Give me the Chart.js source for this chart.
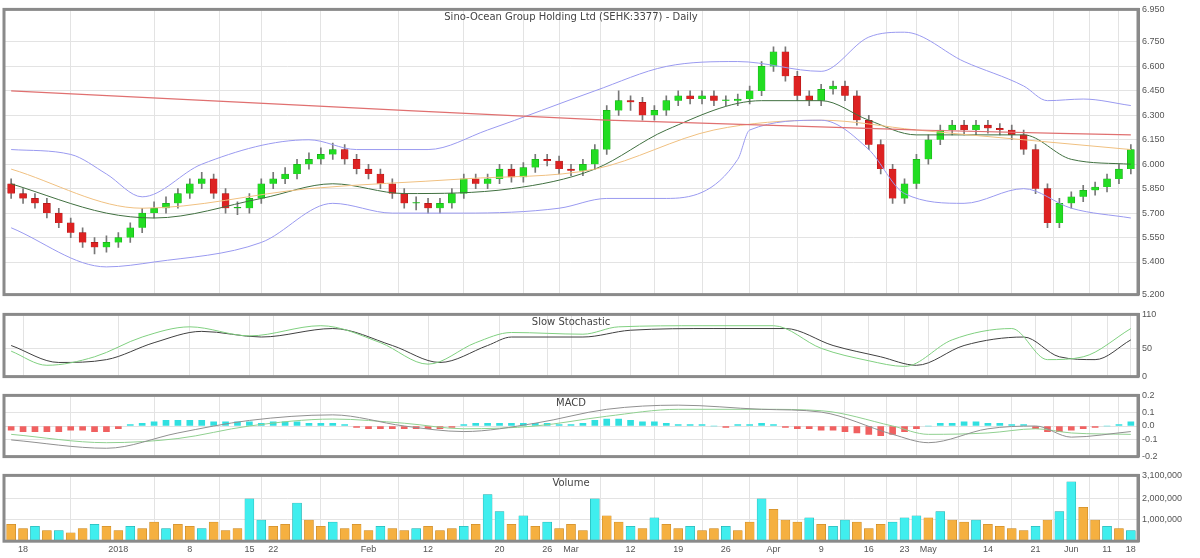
<!DOCTYPE html>
<html><head><meta charset="utf-8">
<script src="https://cdn.jsdelivr.net/npm/chart.js@4/dist/chart.umd.min.js"></script>
<style>
body{margin:0;background:#fff;font-family:"DejaVu Sans",sans-serif;}
.p{position:absolute;left:0;width:1200px;}
</style></head><body>
<div class="p" style="top:0;height:304px"><canvas id="c1"></canvas></div>
<div class="p" style="top:305px;height:81px"><canvas id="c2"></canvas></div>
<div class="p" style="top:386px;height:80px"><canvas id="c3"></canvas></div>
<div class="p" style="top:466px;height:92px"><canvas id="c4"></canvas></div>
<script>
const openP=[5.88,5.82,5.79,5.76,5.70,5.64,5.58,5.52,5.49,5.52,5.55,5.61,5.70,5.73,5.76,5.82,5.88,5.91,5.82,5.73,5.73,5.79,5.88,5.91,5.94,6.00,6.03,6.06,6.09,6.03,5.97,5.94,5.88,5.82,5.76,5.76,5.73,5.76,5.82,5.91,5.88,5.91,5.97,5.92,5.98,6.03,6.02,5.97,5.96,6.00,6.09,6.33,6.39,6.38,6.30,6.33,6.39,6.42,6.40,6.42,6.39,6.39,6.40,6.45,6.60,6.69,6.54,6.42,6.39,6.46,6.48,6.42,6.27,6.12,5.97,5.79,5.88,6.03,6.15,6.21,6.24,6.21,6.24,6.22,6.21,6.18,6.09,5.85,5.64,5.76,5.80,5.84,5.86,5.91,5.97];
const closeP=[5.82,5.79,5.76,5.70,5.64,5.58,5.52,5.49,5.52,5.55,5.61,5.70,5.73,5.76,5.82,5.88,5.91,5.82,5.73,5.73,5.79,5.88,5.91,5.94,6.00,6.03,6.06,6.09,6.03,5.97,5.94,5.88,5.82,5.76,5.76,5.73,5.76,5.82,5.91,5.88,5.91,5.97,5.92,5.98,6.03,6.02,5.97,5.96,6.00,6.09,6.33,6.39,6.38,6.30,6.33,6.39,6.42,6.40,6.42,6.39,6.39,6.40,6.45,6.60,6.69,6.54,6.42,6.39,6.46,6.48,6.42,6.27,6.12,5.97,5.79,5.88,6.03,6.15,6.21,6.24,6.21,6.24,6.22,6.21,6.18,6.09,5.85,5.64,5.76,5.80,5.84,5.86,5.91,5.97,6.09];
const highP=[5.91,5.85,5.82,5.79,5.73,5.67,5.61,5.55,5.56,5.58,5.64,5.73,5.77,5.80,5.85,5.91,5.95,5.94,5.85,5.77,5.82,5.91,5.95,5.98,6.03,6.07,6.10,6.13,6.12,6.06,6.00,5.97,5.91,5.85,5.80,5.79,5.79,5.85,5.94,5.94,5.94,6.00,6.00,6.01,6.06,6.06,6.05,6.00,6.03,6.12,6.36,6.45,6.42,6.41,6.36,6.42,6.45,6.45,6.45,6.45,6.42,6.43,6.48,6.63,6.72,6.72,6.57,6.45,6.49,6.51,6.51,6.45,6.30,6.15,6.00,5.91,6.06,6.18,6.24,6.27,6.27,6.27,6.27,6.25,6.24,6.21,6.12,5.88,5.79,5.83,5.87,5.89,5.94,6.00,6.12];
const lowP=[5.79,5.76,5.73,5.67,5.61,5.55,5.49,5.45,5.46,5.49,5.52,5.58,5.67,5.70,5.73,5.79,5.85,5.79,5.70,5.69,5.70,5.76,5.85,5.88,5.91,5.97,6.00,6.03,6.00,5.94,5.91,5.85,5.79,5.73,5.72,5.70,5.70,5.73,5.79,5.85,5.85,5.88,5.89,5.89,5.95,5.99,5.94,5.93,5.93,5.97,6.06,6.30,6.33,6.27,6.27,6.30,6.36,6.37,6.37,6.36,6.36,6.36,6.37,6.42,6.57,6.51,6.39,6.36,6.36,6.43,6.39,6.24,6.09,5.94,5.76,5.76,5.85,6.00,6.12,6.18,6.18,6.18,6.19,6.18,6.15,6.06,5.82,5.61,5.61,5.73,5.77,5.81,5.83,5.88,5.94];
const volume=[0.8,0.6,0.7,0.5,0.5,0.4,0.6,0.8,0.7,0.5,0.7,0.6,0.9,0.6,0.8,0.7,0.6,0.9,0.5,0.6,2.0,1.0,0.7,0.8,1.8,1.0,0.7,0.9,0.6,0.8,0.5,0.7,0.6,0.5,0.6,0.7,0.5,0.6,0.7,0.8,2.2,1.4,0.8,1.2,0.7,0.9,0.6,0.8,0.5,2.0,1.2,0.9,0.7,0.6,1.1,0.8,0.6,0.7,0.5,0.6,0.7,0.5,0.9,2.0,1.5,1.0,0.9,1.1,0.8,0.7,1.0,0.9,0.6,0.8,0.9,1.1,1.2,1.1,1.4,1.0,0.9,1.0,0.8,0.7,0.6,0.5,0.7,1.0,1.4,2.8,1.6,1.0,0.7,0.6,0.5];
const volColor=['o','o','c','o','c','o','o','c','o','o','c','o','o','c','o','o','c','o','o','o','c','c','o','o','c','o','o','c','o','o','o','c','o','o','c','o','o','o','c','o','c','c','o','c','o','c','o','o','o','c','o','o','c','o','c','o','o','c','o','o','c','o','o','c','o','o','o','c','o','c','c','o','o','o','c','c','c','o','c','o','o','c','o','o','o','o','c','o','c','c','o','o','c','o','c'];
const bbUpper=[[0,6.09],[5,6.06],[8,5.94],[11,5.80],[16,6.00],[25,6.15],[29,6.09],[35,6.09],[40,6.21],[49,6.45],[55,6.60],[61,6.63],[68,6.57],[72,6.78],[75,6.81],[80,6.63],[85,6.48],[87,6.39],[90,6.40],[94,6.36]];
const bbLower=[[0,5.61],[8,5.37],[12,5.40],[21,5.52],[27,5.76],[32,5.70],[38,5.70],[46,5.73],[50,5.79],[55,5.79],[61,6.03],[62,6.21],[68,6.27],[72,6.09],[75,5.82],[80,5.76],[85,5.85],[89,5.73],[94,5.67]];
const maMid=[[0,5.88],[8,5.70],[12,5.67],[21,5.79],[27,5.88],[33,5.82],[42,5.85],[49,5.97],[55,6.21],[63,6.39],[68,6.39],[72,6.27],[76,6.18],[85,6.18],[89,6.03],[94,6.00]];
const maOrange=[[0,5.97],[11,5.73],[25,5.85],[38,5.91],[49,5.97],[59,6.21],[68,6.27],[76,6.21],[85,6.15],[94,6.09]];
const maLong=[[0,6.45],[25,6.36],[50,6.27],[76,6.21],[94,6.18]];
const stochK=[[0,55],[4,25],[8,30],[12,60],[16,80],[21,70],[27,85],[32,55],[36,25],[40,55],[42,70],[48,70],[52,82],[59,85],[65,85],[69,55],[73,35],[76,20],[80,55],[85,70],[88,35],[91,30],[94,65]];
const stochD=[[0,45],[3,20],[7,35],[11,70],[15,88],[20,72],[26,90],[31,60],[35,22],[39,60],[42,78],[48,75],[51,88],[58,90],[64,90],[68,50],[72,28],[75,18],[79,65],[84,85],[87,30],[90,35],[94,85]];
const macdLine=[[0,-0.10],[8,-0.16],[14,-0.05],[20,0.04],[27,0.08],[33,0.00],[38,-0.04],[44,0.02],[50,0.12],[56,0.15],[63,0.12],[68,0.10],[74,-0.06],[77,-0.12],[82,-0.02],[86,0.00],[89,-0.08],[94,-0.04]];
const macdSignal=[[0,-0.06],[8,-0.12],[14,-0.09],[20,0.00],[27,0.05],[33,0.02],[38,-0.02],[44,0.00],[50,0.07],[56,0.12],[63,0.12],[68,0.11],[74,0.00],[77,-0.06],[82,-0.05],[86,-0.02],[89,-0.05],[94,-0.06]];
const macdHist=[-0.03,-0.04,-0.04,-0.04,-0.04,-0.03,-0.03,-0.04,-0.04,-0.02,0.01,0.02,0.03,0.04,0.04,0.04,0.04,0.03,0.03,0.03,0.03,0.02,0.03,0.03,0.03,0.02,0.02,0.02,0.01,-0.01,-0.02,-0.02,-0.02,-0.02,-0.02,-0.02,-0.02,-0.01,0.01,0.02,0.02,0.02,0.02,0.02,0.02,0.02,0.01,0.01,0.02,0.04,0.05,0.05,0.04,0.03,0.03,0.02,0.01,0.01,0.01,0.00,-0.01,0.01,0.01,0.02,0.01,-0.01,-0.02,-0.02,-0.03,-0.03,-0.04,-0.05,-0.06,-0.07,-0.06,-0.04,-0.02,0.00,0.02,0.02,0.03,0.03,0.02,0.02,0.01,0.01,-0.02,-0.04,-0.04,-0.03,-0.02,-0.01,0.00,0.01,0.03];
const dateTicks=[[1,'18'],[9,'2018'],[15,'8'],[20,'15'],[22,'22'],[30,'Feb'],[35,'12'],[41,'20'],[45,'26'],[47,'Mar'],[52,'12'],[56,'19'],[60,'26'],[64,'Apr'],[68,'9'],[72,'16'],[75,'23'],[77,'May'],[82,'14'],[86,'21'],[89,'Jun'],[92,'11'],[94,'18']];
const titleText='Sino-Ocean Group Holding Ltd (SEHK:3377) - Daily';

const N=closeP.length;
const labels=[...Array(N).keys()];
const tickMap=Object.fromEntries(dateTicks);
const pts=a=>a.map(([x,y])=>({x,y}));
const gridC='#e3e3e3';
function xScale(show){return {type:'linear',min:-0.6,max:N-0.4,offset:false,
  grid:{color:gridC,drawTicks:false},border:{display:false},
  afterBuildTicks:s=>{s.ticks=dateTicks.map(t=>({value:t[0]}));},
  ticks:{display:show,autoSkip:false,maxRotation:0,font:{size:9},color:'#555',padding:3,callback:v=>tickMap[v]||''}};}
function yScale(o){return Object.assign({position:'right',grid:{color:gridC,drawTicks:false},border:{color:'#888',width:3},
  ticks:{font:{size:9},color:'#555',padding:4},afterFit:s=>{s.width=62;}},o);}
const frame={id:'frame',afterDraw(c){const a=c.chartArea,x=c.ctx;x.save();x.strokeStyle='#8a8a8a';x.lineWidth=3;x.strokeRect(a.left,a.top,a.right-a.left,a.bottom-a.top);x.restore();}};
function panelTitle(t){return {id:'pt'+t,afterDraw(c){const x=c.ctx;x.save();x.font='10px DejaVu Sans';x.fillStyle='#444';x.textAlign='center';x.fillText(t,(c.chartArea.left+c.chartArea.right)/2,c.chartArea.top+11);x.restore();}};}
const base={responsive:true,maintainAspectRatio:false,animation:false,plugins:{legend:{display:false},tooltip:{enabled:false}},layout:{padding:{left:4,top:1,bottom:0}}};
const line=(d,c,w)=>({type:'line',data:pts(d),borderColor:c,borderWidth:w||1,pointRadius:0,cubicInterpolationMode:'monotone',order:0});

const up=labels.map(i=>closeP[i]>=openP[i]);
new Chart(c1,{data:{datasets:[
  line(maLong,'#e07070',1.2),line(bbUpper,'#9a9af0'),line(bbLower,'#9a9af0'),line(maOrange,'#f0c080'),line(maMid,'#407040'),
  {type:'bar',data:labels.map(i=>({x:i,y:[lowP[i],highP[i]]})),backgroundColor:'#777',barThickness:1,grouped:false,order:2},
  {type:'bar',data:labels.map(i=>({x:i,y:[openP[i],closeP[i]===openP[i]?closeP[i]+0.005:closeP[i]]})),backgroundColor:up.map(u=>u?'#22dd22':'#dd2222'),borderColor:up.map(u=>u?'#119911':'#991111'),borderWidth:0.5,barThickness:7,grouped:false,order:1}
]},options:Object.assign({},base,{scales:{x:xScale(false),y:yScale({min:5.2,max:6.95,ticks:{font:{size:9},color:'#555',padding:4,stepSize:0.15,callback:v=>v.toFixed(3)}})}}),
plugins:[frame,panelTitle(titleText)]});

new Chart(c2,{data:{datasets:[line(stochD,'#80d080',1),line(stochK,'#404040',1)]},
options:Object.assign({},base,{scales:{x:xScale(false),y:yScale({min:0,max:110,ticks:{font:{size:9},color:'#555',padding:4,stepSize:50}})}}),plugins:[frame,panelTitle('Slow Stochastic')]});

new Chart(c3,{data:{datasets:[line(macdLine,'#909090',1),line(macdSignal,'#90d090',1),
  {type:'bar',data:labels.map(i=>({x:i,y:macdHist[i]})),backgroundColor:macdHist.map(v=>v>=0?'#30e0e0':'#f06060'),barThickness:6,grouped:false,order:1}]},
options:Object.assign({},base,{scales:{x:xScale(false),y:yScale({min:-0.22,max:0.22,ticks:{font:{size:9},color:'#555',padding:4,stepSize:0.1,callback:v=>v.toFixed(1)}})}}),plugins:[frame,panelTitle('MACD')]});

new Chart(c4,{data:{datasets:[
  {type:'bar',data:labels.map(i=>({x:i,y:volume[i]})),backgroundColor:volColor.map(c=>c==='c'?'#40eeee':'#f5b040'),borderColor:volColor.map(c=>c==='c'?'#20a0a0':'#c08020'),borderWidth:0.5,barThickness:9,grouped:false}]},
options:Object.assign({},base,{scales:{x:xScale(true),y:yScale({min:0,max:3.1,ticks:{font:{size:9},color:'#555',padding:4,stepSize:1,callback:v=>v? (v*1000000).toLocaleString('en-US'):''}})}}),plugins:[frame,panelTitle('Volume')]});
</script></body></html>
